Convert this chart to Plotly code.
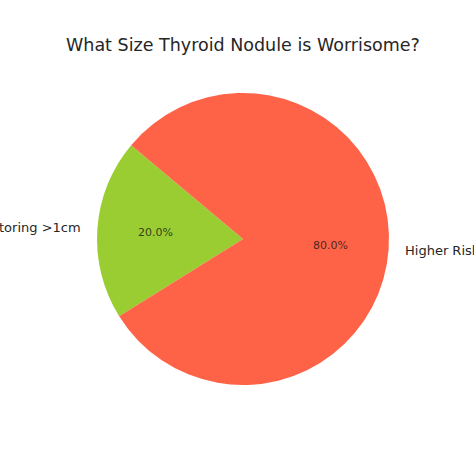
import math
import plotly.graph_objects as go

# Data
labels = ["Monitoring >1cm", "Higher Risk >4cm"]
values = [20, 80]
colors = ["#9ACD32", "#FF6347"]
title = "What Size Thyroid Nodule is Worrisome?"

W = H = 474
cx, cy, r = 243.0, 239.0, 146.0  # pie centre / radius in px
start_angle = 140.0  # degrees, counterclockwise from 3 o'clock

total = sum(values)
first_end = start_angle + 360.0 * values[0] / total

fig = go.Figure(go.Pie(
    labels=labels,
    values=values,
    marker=dict(colors=colors, line=dict(width=0)),
    sort=False,
    direction="counterclockwise",
    rotation=90 - first_end,
    textinfo="none",
    hoverinfo="skip",
    showlegend=False,
    domain=dict(x=[(cx - r) / W, (cx + r) / W], y=[1 - (cy + r) / H, 1 - (cy - r) / H]),
))

annotations = []
ang = start_angle
for lab, v in zip(labels, values):
    span = 360.0 * v / total
    mid = math.radians(ang + span / 2)
    ang += span
    px = cx + 0.6 * r * math.cos(mid)
    py = cy - 0.6 * r * math.sin(mid)
    annotations.append(dict(
        x=px / W, y=1 - py / H, xref="paper", yref="paper",
        text=f"{100.0 * v / total:.1f}%", showarrow=False,
        xanchor="center", yanchor="middle",
        font=dict(family="DejaVu Sans", size=11, color="rgba(20,20,20,0.8)"),
    ))
    lx = cx + 1.1 * r * math.cos(mid)
    ly = cy - 1.1 * r * math.sin(mid)
    annotations.append(dict(
        x=lx / W, y=1 - ly / H, xref="paper", yref="paper",
        text=lab, showarrow=False,
        xanchor="right" if math.cos(mid) < 0 else "left", yanchor="middle",
        font=dict(family="DejaVu Sans", size=13, color="#262626"),
    ))

annotations.append(dict(
    x=cx / W, y=1 - 45 / H, xref="paper", yref="paper",
    text=title, showarrow=False, xanchor="center", yanchor="middle",
    font=dict(family="DejaVu Sans", size=17.5, color="#262626"),
))

fig.update_layout(
    width=W, height=H,
    margin=dict(l=0, r=0, t=0, b=0),
    paper_bgcolor="white", plot_bgcolor="white",
    annotations=annotations,
)

fig.write_html(
    "out.html",
    config={"displayModeBar": False},
    post_script="document.body.style.margin='0';document.body.style.overflow='hidden';",
)
